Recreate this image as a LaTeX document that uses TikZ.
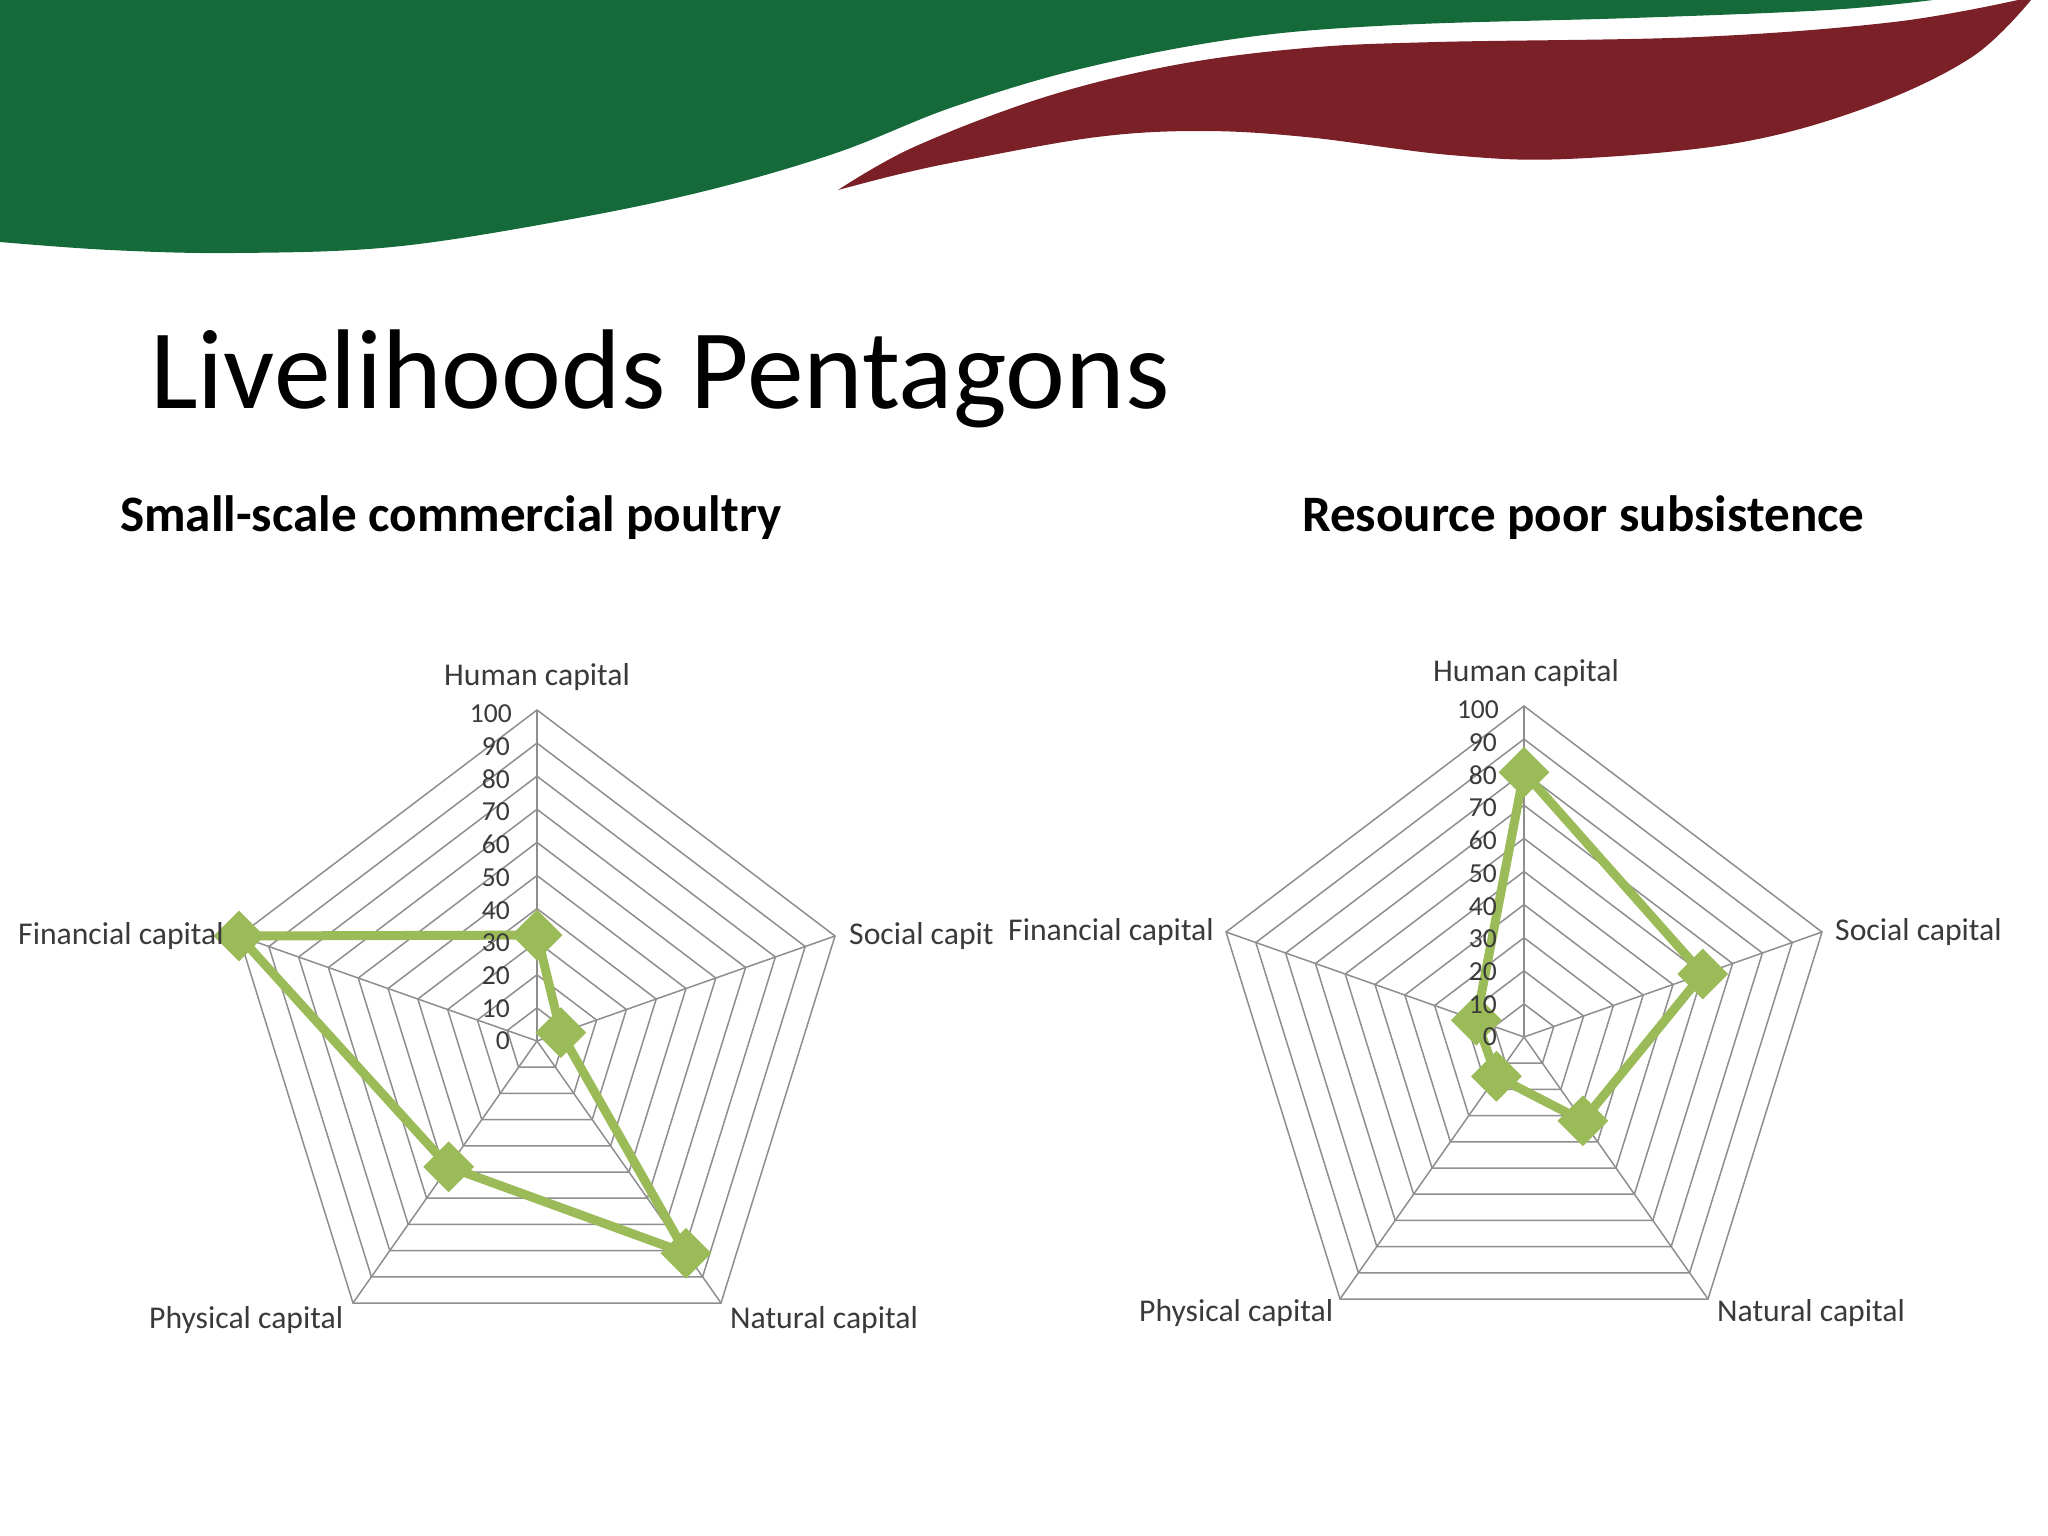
\documentclass[tikz,border=0pt]{standalone}
\usepackage{fontspec}
\setmainfont{Carlito}
\usetikzlibrary{shapes.geometric}
\definecolor{hdrgreen}{HTML}{146A38}
\definecolor{hdrred}{HTML}{7A2026}
\definecolor{series}{HTML}{9BBB59}
\definecolor{gridc}{HTML}{8E8E8E}
\definecolor{labelc}{HTML}{3A3A3A}
\tikzset{
  gridline/.style={draw=gridc,line width=1.5pt,line join=miter},
  serie/.style={draw=series,line width=9pt,line join=miter},
  marker/.style={diamond,fill=series,draw=none,inner sep=0pt,aspect=1,minimum width=51pt,minimum height=51pt},
  axlabel/.style={text=labelc,font=\fontsize{31.7}{32}\selectfont,inner sep=0pt,anchor=base west},
  numlabel/.style={text=labelc,font=\fontsize{27.5}{28}\selectfont,inner sep=0pt,anchor=east},
  headlabel/.style={text=black,font=\fontsize{51.1}{52}\selectfont\bfseries,inner sep=0pt,anchor=base west},
  titlelabel/.style={text=black,font=\fontsize{113.4}{114}\selectfont,inner sep=0pt,anchor=base west}
}
% prefix, cx, cy, values human social natural physical financial
\newcommand{\radarchart}[8]{%
  \begin{scope}[shift={(#2,#3)}]
    \foreach \l in {10,20,...,100}{
      \draw[gridline] (0,{-3.31*\l}) -- ({2.98*\l},{-1.05*\l}) -- ({1.84*\l},{2.62*\l})
        -- ({-1.84*\l},{2.62*\l}) -- ({-2.98*\l},{-1.05*\l}) -- cycle;
    }
    \coordinate (#1c) at (0,0);
    \coordinate (#1vh) at (0,-331);
    \coordinate (#1vs) at (298,-105);
    \coordinate (#1vn) at (184,262);
    \coordinate (#1vp) at (-184,262);
    \coordinate (#1vf) at (-298,-105);
    \foreach \v in {h,s,n,p,f}{\draw[gridline] (#1c) -- (#1v\v);}
    \node[marker] (#1h) at (0,{-3.31*#4}) {};
    \node[marker] (#1s) at ({2.98*#5},{-1.05*#5}) {};
    \node[marker] (#1a) at ({1.84*#6},{2.62*#6}) {};
    \node[marker] (#1p) at ({-1.84*#7},{2.62*#7}) {};
    \node[marker] (#1f) at ({-2.98*#8},{-1.05*#8}) {};
    \draw[serie] (#1h.center) -- (#1s.center) -- (#1a.center) -- (#1p.center) -- (#1f.center) -- cycle;
    \foreach \l in {0,10,...,90}{
      \node[numlabel] (#1n\l) at (-27,{-3.27*\l}) {\l};
    }
    \node[numlabel] (#1n100) at (-25,-327) {100};
  \end{scope}
}
\begin{document}
\begin{tikzpicture}[x=1pt,y=-1pt]
\useasboundingbox (0,0) rectangle (2048,1536);
\fill[white] (0,0) rectangle (2048,1536);
% header waves
\fill[hdrgreen] (0,0) -- plot[smooth,tension=0.6] coordinates {(0,242) (110,250) (235,253) (392,247) (561,221) (705,191) (836,153) (953,107) (1084,68) (1241,38) (1397,25) (1632,18) (1828,10) (1933,0)} -- cycle;
\fill[hdrred] plot[smooth,tension=0.6] coordinates {(838,190) (914,147) (1045,97) (1175,65) (1306,48) (1437,42) (1698,37) (1894,22) (2018,0)}
  -- plot[smooth,tension=0.6] coordinates {(2031,0) (1972,57) (1868,107) (1737,143) (1567,159) (1450,155) (1306,137) (1201,131) (1097,137) (966,160) (900,174) (838,190)} -- cycle;
% titles
\node[titlelabel] (title) at (150,408) {Livelihoods Pentagons};
\node[headlabel] (headL) at (120,531) {Small-scale commercial poultry};
\node[headlabel] (headR) at (1302,531) {Resource poor subsistence};
% charts
\radarchart{L}{537}{1041}{32}{8}{81}{48}{100}
\radarchart{R}{1524}{1037}{80}{60}{32}{15}{16}
% axis labels
\node[axlabel] (Lhum) at (444,685) {Human capital};
\node[axlabel] (Lsoc) at (849,944) {Social capit};
\node[axlabel] (Lnat) at (730,1328) {Natural capital};
\node[axlabel] (Lphy) at (149,1328) {Physical capital};
\node[axlabel] (Lfin) at (18,944) {Financial capital};
\node[axlabel] (Rhum) at (1433,681) {Human capital};
\node[axlabel] (Rsoc) at (1835,940) {Social capital};
\node[axlabel] (Rnat) at (1717,1321) {Natural capital};
\node[axlabel] (Rphy) at (1139,1321) {Physical capital};
\node[axlabel] (Rfin) at (1008,940) {Financial capital};
\end{tikzpicture}
\end{document}
